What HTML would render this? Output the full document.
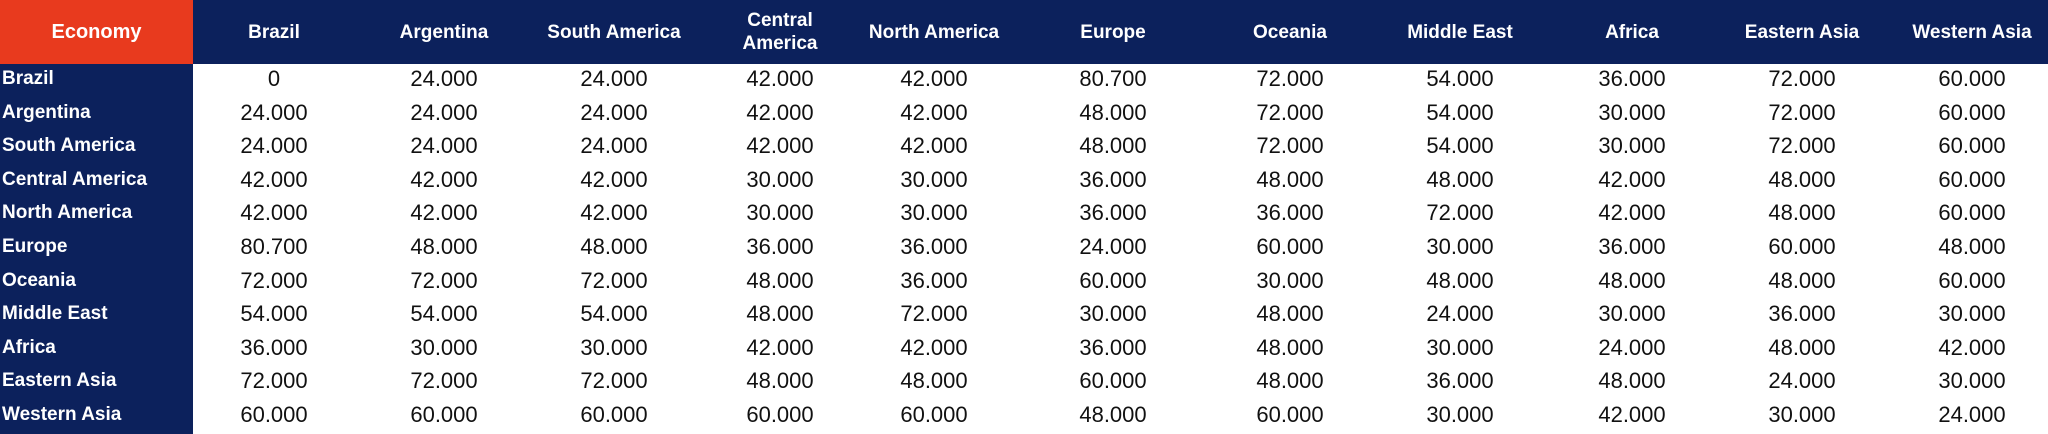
<!DOCTYPE html>
<html><head><meta charset="utf-8"><style>
*{margin:0;padding:0;box-sizing:border-box}
body{width:2048px;height:434px;background:#fff;position:relative;overflow:hidden;font-family:"Liberation Sans",sans-serif}
.hdr{position:absolute;left:0;top:0;width:2048px;height:64px;background:#0c215c}
.red{position:absolute;left:0;top:0;width:193px;height:64px;background:#e83a1e;color:#fff;font-weight:bold;font-size:20px;display:flex;align-items:center;justify-content:center}
.side{position:absolute;left:0;top:64px;width:193px;height:370px;background:#0c215c}
.h{position:absolute;top:0;height:64px;color:#fff;font-weight:bold;font-size:19px;display:flex;align-items:center;justify-content:center;text-align:center;line-height:23px;transform:translateX(-50%);width:170px}
.r{position:absolute;left:2px;color:#fff;font-weight:bold;font-size:19px;height:33.6px;line-height:33.6px}
.c{position:absolute;color:#111;font-size:22px;height:33.6px;line-height:33.6px;width:170px;text-align:center;transform:translateX(-50%)}
</style></head><body>
<div class="hdr"></div><div class="red">Economy</div><div class="side"></div>
<div id="t"></div>
<script>
var cols=["Brazil","Argentina","South America","Central<br>America","North America","Europe","Oceania","Middle East","Africa","Eastern Asia","Western Asia"];
var xs=[274,444,614,780,934,1113,1290,1460,1632,1802,1972];
var rows=["Brazil","Argentina","South America","Central America","North America","Europe","Oceania","Middle East","Africa","Eastern Asia","Western Asia"];
var d=[
["0","24.000","24.000","42.000","42.000","80.700","72.000","54.000","36.000","72.000","60.000"],
["24.000","24.000","24.000","42.000","42.000","48.000","72.000","54.000","30.000","72.000","60.000"],
["24.000","24.000","24.000","42.000","42.000","48.000","72.000","54.000","30.000","72.000","60.000"],
["42.000","42.000","42.000","30.000","30.000","36.000","48.000","48.000","42.000","48.000","60.000"],
["42.000","42.000","42.000","30.000","30.000","36.000","36.000","72.000","42.000","48.000","60.000"],
["80.700","48.000","48.000","36.000","36.000","24.000","60.000","30.000","36.000","60.000","48.000"],
["72.000","72.000","72.000","48.000","36.000","60.000","30.000","48.000","48.000","48.000","60.000"],
["54.000","54.000","54.000","48.000","72.000","30.000","48.000","24.000","30.000","36.000","30.000"],
["36.000","30.000","30.000","42.000","42.000","36.000","48.000","30.000","24.000","48.000","42.000"],
["72.000","72.000","72.000","48.000","48.000","60.000","48.000","36.000","48.000","24.000","30.000"],
["60.000","60.000","60.000","60.000","60.000","48.000","60.000","30.000","42.000","30.000","24.000"]];
var h="";
cols.forEach(function(c,i){h+='<div class="h" style="left:'+xs[i]+'px">'+c+'</div>';});
rows.forEach(function(r,j){var y=64+j*33.6-2;h+='<div class="r" style="top:'+y+'px">'+r+'</div>';
d[j].forEach(function(v,i){h+='<div class="c" style="left:'+xs[i]+'px;top:'+y+'px">'+v+'</div>';});});
document.getElementById("t").innerHTML=h;
</script>
</body></html>
